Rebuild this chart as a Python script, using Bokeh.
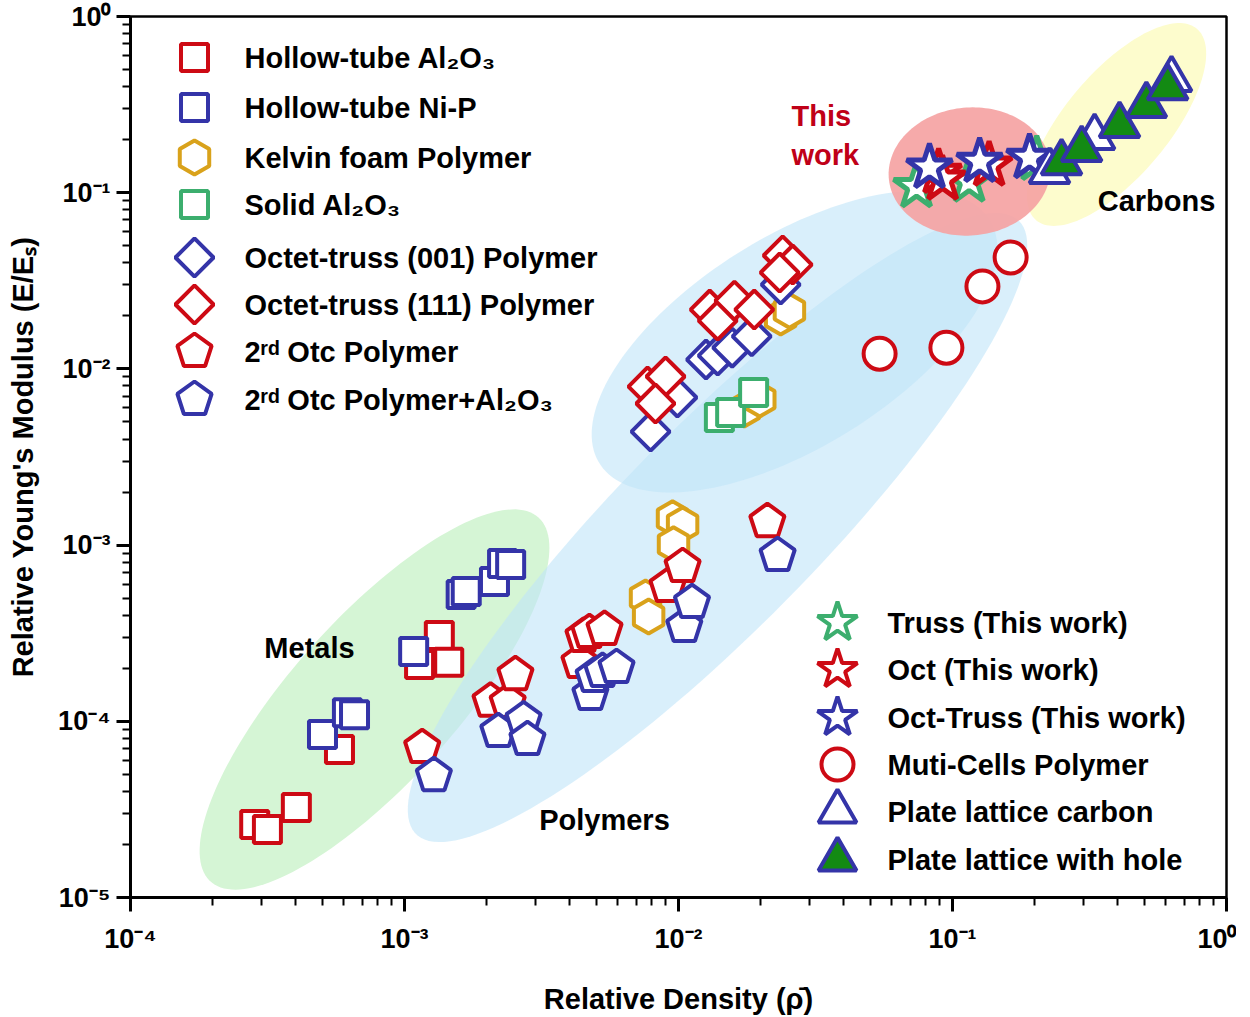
import numpy as np
from bokeh.plotting import figure
from bokeh.models import CustomJSTickFormatter, FixedTicker
from bokeh.core.properties import value
from bokeh.embed import file_html
from bokeh.resources import INLINE

# ---------------- data ----------------
ht_al2o3_x = [2.84e-4, 3.16e-4, 4.03e-4, 5.79e-4, 1.135e-3, 1.34e-3, 1.45e-3]
ht_al2o3_y = [2.6e-5, 2.43e-5, 3.24e-5, 6.92e-5, 2.1e-4, 3.07e-4, 2.16e-4]

ht_nip_x = [5.02e-4, 6.19e-4, 6.57e-4, 1.08e-3, 1.61e-3, 1.68e-3, 2.13e-3, 2.28e-3, 2.44e-3]
ht_nip_y = [8.41e-5, 1.12e-4, 1.09e-4, 2.49e-4, 5.25e-4, 5.45e-4, 6.21e-4, 7.86e-4, 7.76e-4]

kelvin_x = [9.51e-3, 1.035e-2, 9.59e-3, 7.58e-3, 7.78e-3, 1.74e-2, 1.98e-2, 2.36e-2, 2.54e-2]
kelvin_y = [1.42e-3, 1.31e-3, 1.01e-3, 5.04e-4, 3.93e-4, 5.89e-3, 6.7e-3, 1.96e-2, 2.14e-2]

solid_x = [1.41e-2, 1.55e-2, 1.88e-2]
solid_y = [5.3e-3, 5.66e-3, 7.35e-3]

oct001_x = [7.91e-3, 9.91e-3, 1.26e-2, 1.39e-2, 1.57e-2, 1.85e-2, 2.36e-2]
oct001_y = [4.41e-3, 6.88e-3, 1.13e-2, 1.19e-2, 1.32e-2, 1.53e-2, 3.01e-2]

oct111_x = [7.71e-3, 8.97e-3, 8.24e-3, 1.3e-2, 1.39e-2, 1.6e-2, 1.89e-2, 2.4e-2, 2.61e-2, 2.34e-2]
oct111_y = [7.94e-3, 9.05e-3, 6.36e-3, 2.17e-2, 1.88e-2, 2.44e-2, 2.17e-2, 4.4e-2, 3.91e-2, 3.52e-2]

otc_x = [1.16e-3, 2.06e-3, 2.38e-3, 2.54e-3, 4.35e-3, 4.5e-3, 4.73e-3, 5.37e-3, 9.12e-3, 1.035e-2, 2.11e-2]
otc_y = [7.1e-5, 1.3e-4, 1.28e-4, 1.84e-4, 2.16e-4, 3.03e-4, 3.19e-4, 3.32e-4, 5.82e-4, 7.56e-4, 1.36e-3]

otc_al_x = [1.28e-3, 2.2e-3, 2.72e-3, 2.81e-3, 4.77e-3, 4.9e-3, 5.28e-3, 5.94e-3, 1.05e-2, 1.12e-2, 2.3e-2]
otc_al_y = [4.92e-5, 8.75e-5, 1.02e-4, 7.88e-5, 1.42e-4, 1.8e-4, 1.92e-4, 2.02e-4, 3.45e-4, 4.72e-4, 8.73e-4]

multi_x = [5.42e-2, 9.5e-2, 0.1286, 0.163]
multi_y = [1.22e-2, 1.32e-2, 2.94e-2, 4.29e-2]

truss_x = [7.39e-2, 0.115, 0.203]
truss_y = [0.108, 0.116, 0.154]
oct_x = [8.9e-2, 9.2e-2, 0.136]
oct_y = [0.13, 0.119, 0.143]
octtruss_x = [8.24e-2, 0.1256, 0.191]
octtruss_y = [0.139, 0.150, 0.158]

plate_x = [0.226, 0.33, 0.63]
plate_y = [0.132, 0.206, 0.439]
hole_x = [0.25, 0.296, 0.407, 0.51, 0.61]
hole_y = [0.148, 0.176, 0.241, 0.313, 0.395]

x_ticks = [1e-4, 1e-3, 1e-2, 1e-1, 1.0]
y_ticks = [1e-5, 1e-4, 1e-3, 1e-2, 1e-1, 1.0]

legend1_labels = ["Hollow-tube Al₂O₃", "Hollow-tube Ni-P", "Kelvin foam Polymer", "Solid Al₂O₃",
                  "Octet-truss (001) Polymer", "Octet-truss (111) Polymer", "2ʳᵈ Otc Polymer",
                  "2ʳᵈ Otc Polymer+Al₂O₃"]
legend2_labels = ["Truss (This work)", "Oct (This work)", "Oct-Truss (This work)",
                  "Muti-Cells Polymer", "Plate lattice carbon", "Plate lattice with hole"]

# ---------------- styling ----------------
RED = "#cd0a14"
BLUE = "#3434a8"
GOLD = "#d9a21b"
GREEN = "#3cae6e"
DKGREEN = "#138a13"
FONT = "Liberation Sans"
LW = 4

X0, X1 = 1e-4, 1.0
Y0, Y1 = 1e-5, 1.0
FW, FH = 1096, 881
PXD_X = FW / 4.0
PXD_Y = FH / 5.0
FL, FT = 131, 17   # frame origin in page pixels


def px2data(px, py):
    lx = np.log10(X0) + (np.asarray(px, dtype=float) - FL) / PXD_X
    ly = np.log10(Y1) - (np.asarray(py, dtype=float) - FT) / PXD_Y
    return 10 ** lx, 10 ** ly


def pentagons(xs, ys, r=18):
    ang = np.pi / 2 + np.arange(5) * 2 * np.pi / 5
    ox, oy = [], []
    for x, y in zip(xs, ys):
        ox.append(list(10 ** (np.log10(x) + r * np.cos(ang) / PXD_X)))
        oy.append(list(10 ** (np.log10(y) + r * np.sin(ang) / PXD_Y)))
    return ox, oy


def ellipse(cx, cy, a, b, deg, n=160):
    t = np.linspace(0, 2 * np.pi, n)
    th = np.radians(deg)
    dx = a * np.cos(t) * np.cos(th) - b * np.sin(t) * np.sin(th)
    dy = a * np.cos(t) * np.sin(th) + b * np.sin(t) * np.cos(th)
    return px2data(cx + dx, cy - dy)


p = figure(frame_width=FW, frame_height=FH, x_axis_type="log", y_axis_type="log",
           x_range=(X0, X1), y_range=(Y0, Y1), output_backend="svg", toolbar_location=None,
           min_border_left=130, min_border_right=10, min_border_top=16, min_border_bottom=108,
           background_fill_color="white", border_fill_color="white")
p.xgrid.visible = False
p.ygrid.visible = False
p.outline_line_color = "black"
p.outline_line_width = 2.5

minor_x = [k * 10.0 ** e for e in range(-4, 0) for k in range(2, 10)]
minor_y = [k * 10.0 ** e for e in range(-5, 0) for k in range(2, 10)]
p.xaxis.ticker = FixedTicker(ticks=x_ticks, minor_ticks=minor_x)
p.yaxis.ticker = FixedTicker(ticks=y_ticks, minor_ticks=minor_y)
fmt_code = """
const sup = {"-":"\u207b","0":"\u2070","1":"\u00b9","2":"\u00b2","3":"\u00b3","4":"\u2074","5":"\u2075","6":"\u2076","7":"\u2077","8":"\u2078","9":"\u2079"};
const e = Math.round(Math.log10(tick));
return "10" + String(e).split("").map(c => sup[c]).join("");
"""
for ax in (p.xaxis, p.yaxis):
    ax.formatter = CustomJSTickFormatter(code=fmt_code)
    ax.axis_line_width = 3
    ax.major_tick_line_width = 3
    ax.minor_tick_line_width = 2
    ax.major_tick_out = 14
    ax.major_tick_in = 0
    ax.minor_tick_out = 8
    ax.minor_tick_in = 0
    ax.major_label_text_font = FONT
    ax.major_label_text_font_style = "bold"
    ax.major_label_text_font_size = "27px"
    ax.major_label_text_color = "black"
    ax.axis_label_text_font = FONT
    ax.axis_label_text_font_style = "bold"
    ax.axis_label_text_font_size = "29px"
    ax.axis_label_text_color = "black"
p.xaxis.major_label_standoff = 12
p.yaxis.major_label_standoff = 6
p.xaxis.axis_label_standoff = 26
p.yaxis.axis_label_standoff = 16
p.xaxis.axis_label = "Relative Density (ρ̄)"
p.yaxis.axis_label = "Relative Young's Modulus (E/Eₛ)"

# ---------------- shaded regions ----------------
ex, ey = ellipse(375, 700, 245, 82, 48)
p.patch(ex, ey, fill_color="#d5f5d5", line_color=None)
ex, ey = ellipse(718, 528, 430, 100, 45.5)
p.patch(ex, ey, fill_color="#c0e4f8", fill_alpha=0.6, line_color=None)
ex, ey = ellipse(795, 342, 230, 105, 32)
p.patch(ex, ey, fill_color="#c0e4f8", fill_alpha=0.6, line_color=None)
ex, ey = ellipse(1117, 125, 125, 52, 50)
p.patch(ex, ey, fill_color="#fdfccd", line_color=None)
ex, ey = ellipse(970, 172, 81, 64, 5)
p.patch(ex, ey, fill_color="#f5a3a3", fill_alpha=0.92, line_color=None)


# ---------------- markers ----------------
def sq(x, y, color, angle=0.0, size=27):
    p.scatter(x, y, marker="square", size=size, angle=angle, fill_color="white",
              line_color=color, line_width=LW)


def hexm(x, y, color, size=34):
    p.scatter(x, y, marker="hex", size=size, angle=np.pi / 2, fill_color="white",
              line_color=color, line_width=LW)


def pent(x, y, color):
    px_, py_ = pentagons(x, y)
    p.patches(px_, py_, fill_color="white", line_color=color, line_width=LW)


def star(x, y, color, size=40, lw=LW):
    p.scatter(x, y, marker="star", size=size, fill_color="white", line_color=color,
              line_width=lw)


def circ(x, y, color, size=32):
    p.scatter(x, y, marker="circle", size=size, fill_color="white", line_color=color,
              line_width=LW)


def tri(x, y, fill, size=38):
    p.scatter(x, y, marker="triangle", size=size, fill_color=fill, line_color=BLUE,
              line_width=LW)


sq(ht_al2o3_x, ht_al2o3_y, RED)
sq(ht_nip_x, ht_nip_y, BLUE)
hexm(kelvin_x, kelvin_y, GOLD)
sq(solid_x, solid_y, GREEN)
sq(oct001_x, oct001_y, BLUE, angle=np.pi / 4)
sq(oct111_x, oct111_y, RED, angle=np.pi / 4)
pent(otc_x, otc_y, RED)
pent(otc_al_x, otc_al_y, BLUE)
circ(multi_x, multi_y, RED)
star(truss_x, truss_y, GREEN, size=48, lw=5)
star(oct_x, oct_y, RED, size=48, lw=5)
star(octtruss_x, octtruss_y, BLUE, size=48, lw=5)
tri(plate_x, plate_y, "white", size=40)
tri(hole_x, hole_y, DKGREEN, size=40)

# ---------------- region labels ----------------
def label(px, py, txt, color="black", align="center", size="29px"):
    x, y = px2data([px], [py])
    p.text(x, y, text=[txt], text_font=value(FONT), text_font_style="bold",
           text_font_size=size, text_color=color, text_align=align, text_baseline="middle")


label(310, 648, "Metals")
label(605, 820, "Polymers")
label(1157, 201, "Carbons")
label(792, 116, "This", color="#c00018", align="left")
label(792, 155, "work", color="#c00018", align="left")

# ---------------- legends ----------------
l1_y = [58, 108, 158, 205, 258, 305, 352, 400]
lx1, lt1 = 195, 245
mk = [px2data([lx1], [yy]) for yy in l1_y]
sq(mk[0][0], mk[0][1], RED)
sq(mk[1][0], mk[1][1], BLUE)
hexm(mk[2][0], mk[2][1], GOLD)
sq(mk[3][0], mk[3][1], GREEN)
sq(mk[4][0], mk[4][1], BLUE, angle=np.pi / 4)
sq(mk[5][0], mk[5][1], RED, angle=np.pi / 4)
pent(mk[6][0], mk[6][1], RED)
pent(mk[7][0], mk[7][1], BLUE)
tx, ty = px2data([lt1] * len(l1_y), l1_y)
p.text(tx, ty, text=legend1_labels, text_font=value(FONT), text_font_style="bold",
       text_font_size="29px", text_color="black", text_align="left", text_baseline="middle")

l2_y = [623, 670, 718, 765, 812, 860]
lx2, lt2 = 838, 888
mk = [px2data([lx2], [yy]) for yy in l2_y]
star(mk[0][0], mk[0][1], GREEN, size=42)
star(mk[1][0], mk[1][1], RED, size=42)
star(mk[2][0], mk[2][1], BLUE, size=42)
circ(mk[3][0], mk[3][1], RED)
tri(mk[4][0], mk[4][1], "white", size=38)
tri(mk[5][0], mk[5][1], DKGREEN, size=38)
tx, ty = px2data([lt2] * len(l2_y), l2_y)
p.text(tx, ty, text=legend2_labels, text_font=value(FONT), text_font_style="bold",
       text_font_size="29px", text_color="black", text_align="left", text_baseline="middle")

open("out.html", "w").write(file_html(p, INLINE))
